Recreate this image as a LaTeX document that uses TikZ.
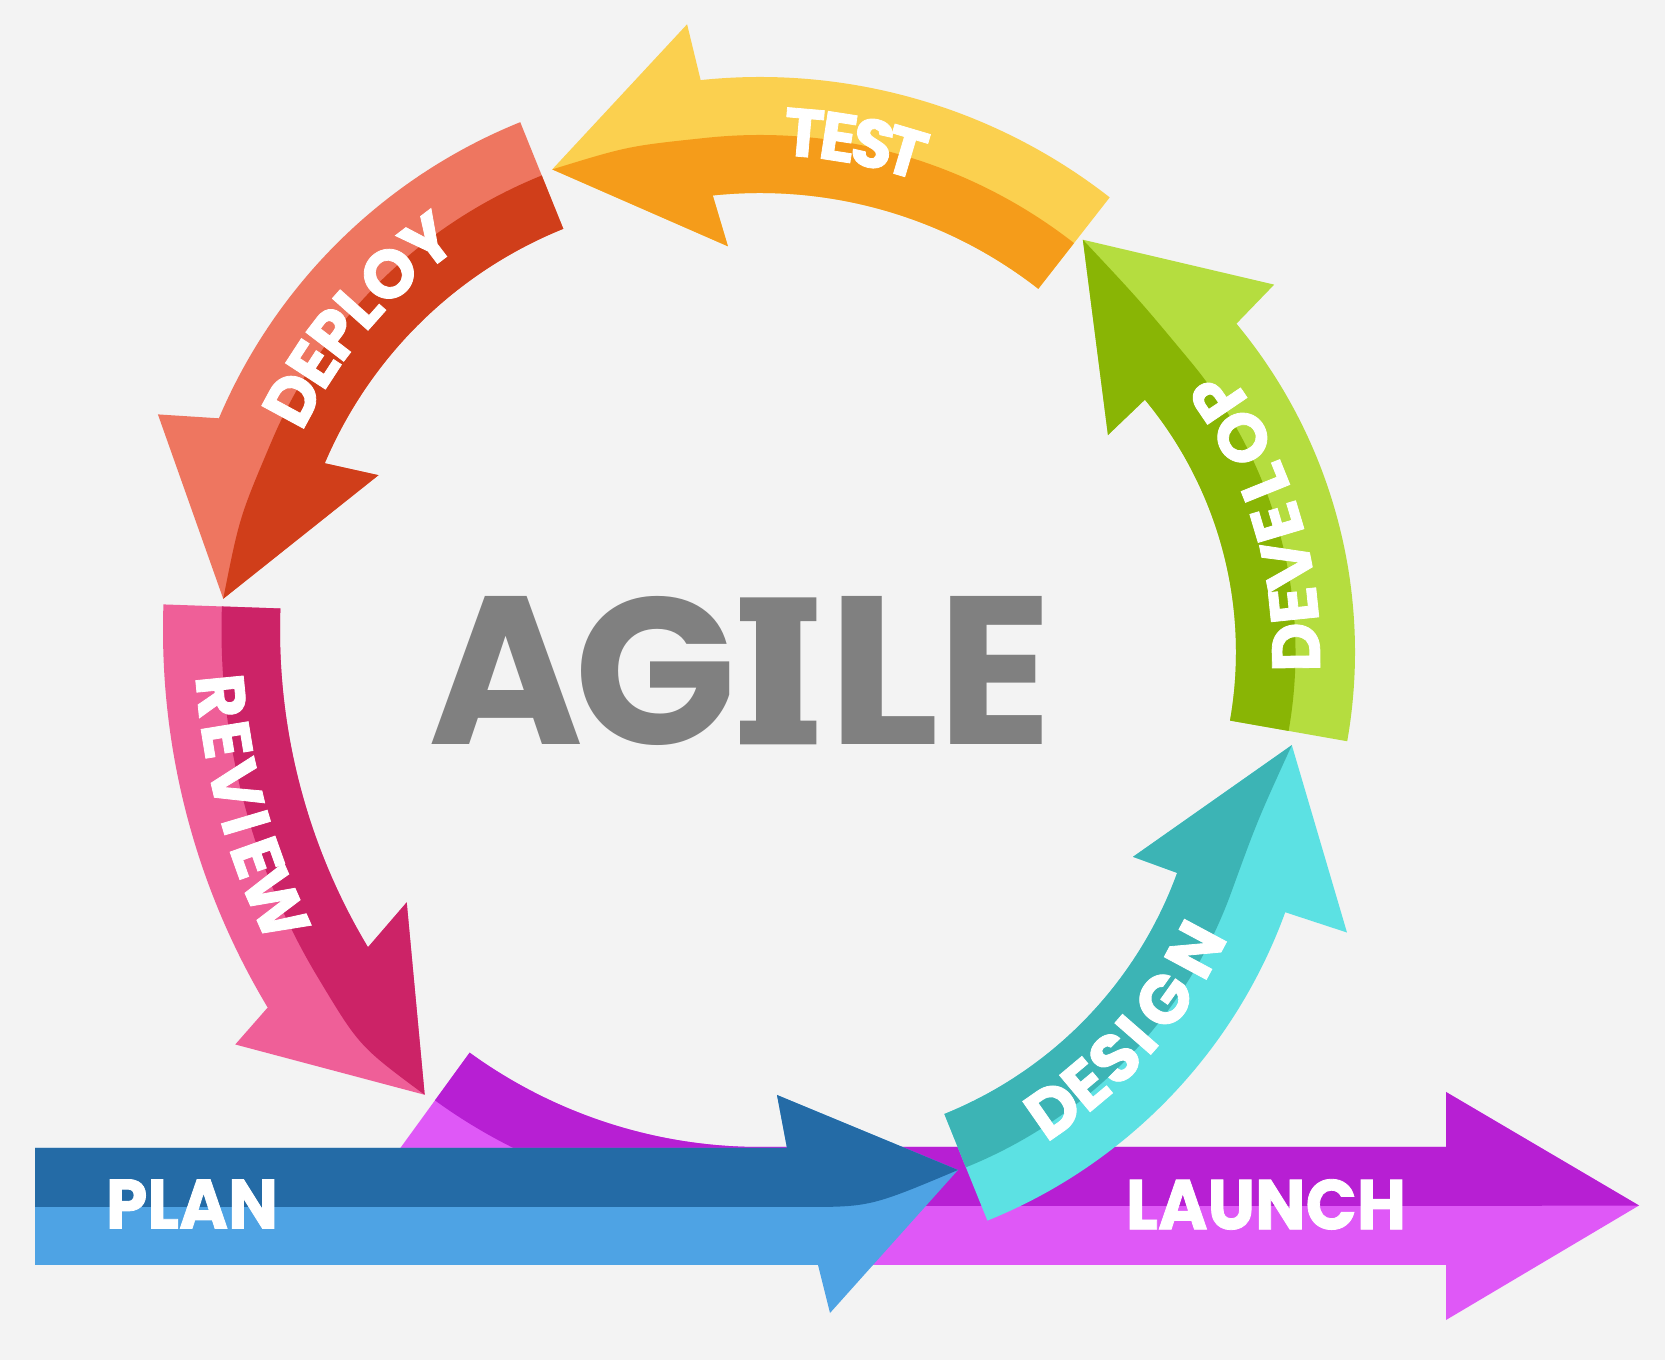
\documentclass[tikz,border=0pt]{standalone}
\usepackage{fontspec}
\setmainfont{Poppins}
\newfontfamily\labfont{Poppins}[BoldFeatures={FakeBold=1.2}]
\newfontfamily\slabfont{DejaVu Serif}[BoldFeatures={FakeBold=7}]
\usepackage{graphicx}
\usetikzlibrary{calc}
\definecolor{bg}{HTML}{F3F3F3}
\definecolor{testL}{HTML}{FBD04F}\definecolor{testD}{HTML}{F59C1A}
\definecolor{deployL}{HTML}{EE7660}\definecolor{deployD}{HTML}{D03E1A}
\definecolor{reviewL}{HTML}{EF5F98}\definecolor{reviewD}{HTML}{CC2367}
\definecolor{developL}{HTML}{B5DD3F}\definecolor{developD}{HTML}{89B505}
\definecolor{designL}{HTML}{5CE1E3}\definecolor{designD}{HTML}{3CB4B5}
\definecolor{launchL}{HTML}{DF58F7}\definecolor{launchD}{HTML}{B71FD3}
\definecolor{planL}{HTML}{4EA3E4}\definecolor{planD}{HTML}{246BA6}
\definecolor{agilegrey}{HTML}{808080}
\pgfkeys{
  /aa/.is family, /aa,
  cx/.store in=\aaCx, cy/.store in=\aaCy, rin/.store in=\aaRin, rout/.store in=\aaRout,
  tail/.store in=\aaTail, base/.store in=\aaBase, tip/.store in=\aaTip, tipr/.store in=\aaTipr,
  bin/.store in=\aaBin, bout/.store in=\aaBout, ba/.store in=\aaBa, bb/.store in=\aaBb,
  light/.store in=\aaLight, dark/.store in=\aaDark
}
\newcommand\ArcArrow[1]{%
  \pgfkeys{/aa,#1}%
  \pgfmathsetmacro\aaRmid{(\aaRin+\aaRout)/2}%
  \pgfmathsetmacro\aaHalf{(\aaTip-\aaBase)/2}%
  \pgfmathsetmacro\aaCang{(\aaTip+\aaBase)/2}%
  \pgfmathsetmacro\aaCrad{\aaRmid/cos(\aaHalf)}%
  \coordinate (aaC) at (\aaCx,\aaCy);
  \fill[\aaLight] ($(aaC)+(\aaTail:\aaRout)$) arc[start angle=\aaTail, end angle=\aaBase, radius=\aaRout]
     -- ($(aaC)+(\aaBa:\aaBout)$) -- ($(aaC)+(\aaTip:\aaTipr)$) -- ($(aaC)+(\aaBb:\aaBin)$)
     -- ($(aaC)+(\aaBase:\aaRin)$) arc[start angle=\aaBase, end angle=\aaTail, radius=\aaRin] -- cycle;
  \fill[\aaDark] ($(aaC)+(\aaTail:\aaRmid)$) arc[start angle=\aaTail, end angle=\aaBase, radius=\aaRmid]
     .. controls ($(aaC)+(\aaCang:\aaCrad)$) .. ($(aaC)+(\aaTip:\aaTipr)$)
     -- ($(aaC)+(\aaBb:\aaBin)$) -- ($(aaC)+(\aaBase:\aaRin)$)
     arc[start angle=\aaBase, end angle=\aaTail, radius=\aaRin] -- cycle;
}
% letters along an arc: #1 centre, #2 radius, #3 rotation offset, #4 name prefix, #5 list letter/angle
\newcommand\ArcWord[5]{%
  \foreach \ch/\an [count=\i] in {#5} {%
    \node[lab, rotate=\an#3] (#4\i) at ($(#1)+(\an:#2)$) {\ch};}%
}
\tikzset{lab/.style={text=white, inner sep=0pt, anchor=center,
  font=\labfont\bfseries\fontsize{68}{68}\selectfont}}
\begin{document}
\begin{tikzpicture}[x=1pt,y=1pt]
\useasboundingbox (0,0) rectangle (1665,1360);
\fill[bg] (0,0) rectangle (1665,1360);
% LAUNCH
\coordinate (lc) at (760,707);
\fill[launchL] ($(lc)+(234:612)$) arc[start angle=234,end angle=270,radius=612] -- (1446,95) -- (1446,40) -- (1639,154.5) -- (1446,268) -- (1446,213) -- (760,213) arc[start angle=270,end angle=234,radius=494] -- cycle;
\fill[launchD] ($(lc)+(234:553)$) arc[start angle=234,end angle=270,radius=553] -- (1446,154) -- (1639,154.5) -- (1446,268) -- (1446,213) -- (760,213) arc[start angle=270,end angle=234,radius=494] -- cycle;
% PLAN
\fill[planL] (35,95) -- (818,95) -- (830,47) -- (958,190) -- (777,265) -- (787,212) -- (35,212) -- cycle;
\fill[planD] (35,212) -- (787,212) -- (777,265) -- (958,190) .. controls (870,153) .. (800,153) -- (35,153) -- cycle;
% arcs
\ArcArrow{cx=790,cy=628,rin=412,rout=527,tail=-68,base=-20,tip=-1.5,tipr=502,bin=365,bout=592,ba=-19.8,bb=-20,light=designL,dark=designD}
\ArcArrow{cx=841,cy=708,rin=395,rout=514,tail=-10,base=39.7,tip=59.6,tipr=478,bin=344,bout=568,ba=40.3,bb=39.1,light=developL,dark=developD}
\ArcArrow{cx=760,cy=715,rin=452,rout=568,tail=52,base=96,tip=113.6,tipr=519,bin=400,bout=625,ba=96.7,bb=94.6,light=testL,dark=testD}
\ArcArrow{cx=727,cy=726,rin=437,rout=552,tail=112,base=157,tip=176,tipr=505,bin=383,bout=610,ba=158.9,bb=155.5,light=deployL,dark=deployD}
\ArcArrow{cx=896,cy=730,rin=616,rout=733,tail=178,base=211,tip=224.6,tipr=662,bin=560,bout=780,ba=212.1,bb=209.1,light=reviewL,dark=reviewD}
% labels
\coordinate (tc) at (760,715);
\coordinate (dc) at (727,726);
\coordinate (rc) at (896,730);
\coordinate (vc) at (841,708);
\coordinate (sc) at (790,628);
\ArcWord{tc}{514}{-90}{test}{T/85.1, E/81.2, S/77.3, T/73.5}
\ArcWord{dc}{494}{-90}{deploy}{D/151.6, E/146.9, P/142.5, L/138.3, O/133.2, Y/127.3}
\ArcWord{rc}{678}{+90}{review}{R/185.6, E/189.3, V/193.2, I/196.5, E/199.6, W/203.8}
\ArcWord{vc}{455}{+90}{develop}{D/0.6, E/5.9, V/11.1, E/16.6, L/21.9, O/28.1, P/34.1}
\ArcWord{sc}{460}{+90}{design}{D/-55.1, E/-50.0, S/-45.1, I/-41.1, G/-35.6, N/-28.2}
\node[inner sep=0, anchor=base west, text=agilegrey, font=\bfseries] (agile) at (428,615)
  {\rlap{\resizebox{155pt}{148pt}{A}}\hspace*{146pt}%
   \rlap{\resizebox{162pt}{148pt}{G}}\hspace*{164pt}%
   \rlap{\raisebox{7pt}{\resizebox{80pt}{134pt}{\slabfont\bfseries I}}}\hspace*{89pt}%
   \rlap{\resizebox{112pt}{148pt}{L}}\hspace*{110pt}%
   \resizebox{115pt}{148pt}{E}};
\node[inner sep=0] (plan) at (192,156) {\resizebox{172pt}{49pt}{\color{white}\labfont\bfseries PLAN}};
\node[inner sep=0] (launch) at (1266,155.5) {\resizebox{280pt}{50pt}{\color{white}\labfont\bfseries LAUNCH}};
\end{tikzpicture}
\end{document}
